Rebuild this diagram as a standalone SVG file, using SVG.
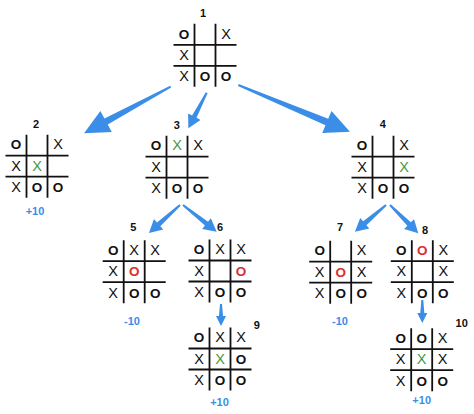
<svg xmlns="http://www.w3.org/2000/svg" width="474" height="414" viewBox="0 0 474 414">
<defs>
<path id="grid" d="M-31.5,-10.5H31.5M-31.5,10.5H31.5M-10.5,-31.5V31.5M10.5,-31.5V31.5" stroke="#111" stroke-width="1.8" fill="none"/>
</defs>
<style>
.x,.o{font-family:"Liberation Sans",Arial,sans-serif;font-size:13.5px;text-anchor:middle;fill:#111}
.x{font-size:14.5px}
.o{font-weight:bold}
.g{fill:#3f9a3f}
.r{fill:#d9302e}
.num{font-family:"Liberation Sans",Arial,sans-serif;font-weight:bold;font-size:11px;text-anchor:middle;fill:#111;stroke:#fff;stroke-width:3;paint-order:stroke}
.score{font-family:"Liberation Sans",Arial,sans-serif;font-weight:bold;font-size:11px;text-anchor:middle;fill:#3a8ee8;stroke:#fff;stroke-width:2;paint-order:stroke}
.arrow{fill:#3a8ee8}
</style>
<rect width="474" height="414" fill="#fff"/>
<g id="connectors">
<path class="arrow" transform="translate(170.7,86.7) rotate(151.7)" d="M0,-1 L73.4,-3.5 L73.4,-12 L98.4,0 L73.4,12 L73.4,3.5 L0,1Z"/>
<path class="arrow" transform="translate(206.7,92.7) rotate(117.3)" d="M0,-1 L27,-2.5 L27,-7 L40,0 L27,7 L27,2.5 L0,1Z"/>
<path class="arrow" transform="translate(238.3,85) rotate(22.7)" d="M0,-1 L96,-3.5 L96,-12 L121,0 L96,12 L96,3.5 L0,1Z"/>
<path class="arrow" transform="translate(180,205) rotate(137.9)" d="M0,-1 L28.8,-2.5 L28.8,-7 L41.8,0 L28.8,7 L28.8,2.5 L0,1Z"/>
<path class="arrow" transform="translate(183,205) rotate(38.4)" d="M0,-1 L30,-2.5 L30,-7 L43,0 L30,7 L30,2.5 L0,1Z"/>
<path class="arrow" transform="translate(386,205) rotate(139.3)" d="M0,-1 L28,-2.5 L28,-7 L41,0 L28,7 L28,2.5 L0,1Z"/>
<path class="arrow" transform="translate(390,205) rotate(45)" d="M0,-1 L27,-2.5 L27,-7 L40,0 L27,7 L27,2.5 L0,1Z"/>
<path class="arrow" transform="translate(221,304) rotate(90)" d="M0,-1 L12,-2 L12,-5 L22,0 L12,5 L12,2 L0,1Z"/>
<path class="arrow" transform="translate(422.3,300) rotate(90)" d="M0,-1 L13,-2 L13,-5 L23,0 L13,5 L13,2 L0,1Z"/>
</g>
<g id="node1">
<text class="num" x="203" y="17">1</text>
<g transform="translate(205,55.3)"><use href="#grid"/>
<text class="o" x="-21" y="-16.8">O</text><text class="x" x="21" y="-16.8">X</text>
<text class="x" x="-21" y="4.7">X</text>
<text class="x" x="-21" y="26.2">X</text><text class="o" x="0" y="26.2">O</text><text class="o" x="21" y="26.2">O</text></g>
</g>
<g id="node2">
<text class="num" x="36" y="128">2</text>
<g transform="translate(37,166.2)"><use href="#grid"/>
<text class="o" x="-21" y="-16.8">O</text><text class="x" x="21" y="-16.8">X</text>
<text class="x" x="-21" y="4.7">X</text><text class="x g" x="0" y="4.7">X</text>
<text class="x" x="-21" y="26.2">X</text><text class="o" x="0" y="26.2">O</text><text class="o" x="21" y="26.2">O</text></g>
<text class="score" x="35" y="214.5">+10</text>
</g>
<g id="node3">
<text class="num" x="176.7" y="129">3</text>
<g transform="translate(177,167.2)"><use href="#grid"/>
<text class="o" x="-21" y="-16.8">O</text><text class="x g" x="0" y="-16.8">X</text><text class="x" x="21" y="-16.8">X</text>
<text class="x" x="-21" y="4.7">X</text>
<text class="x" x="-21" y="26.2">X</text><text class="o" x="0" y="26.2">O</text><text class="o" x="21" y="26.2">O</text></g>
</g>
<g id="node4">
<text class="num" x="382.7" y="128">4</text>
<g transform="translate(383,167.2)"><use href="#grid"/>
<text class="o" x="-21" y="-16.8">O</text><text class="x" x="21" y="-16.8">X</text>
<text class="x" x="-21" y="4.7">X</text><text class="x g" x="21" y="4.7">X</text>
<text class="x" x="-21" y="26.2">X</text><text class="o" x="0" y="26.2">O</text><text class="o" x="21" y="26.2">O</text></g>
</g>
<g id="node5">
<text class="num" x="133.3" y="230.7">5</text>
<g transform="translate(134.2,271.7)"><use href="#grid"/>
<text class="o" x="-21" y="-16.8">O</text><text class="x" x="0" y="-16.8">X</text><text class="x" x="21" y="-16.8">X</text>
<text class="x" x="-21" y="4.7">X</text><text class="o r" x="0" y="4.7">O</text>
<text class="x" x="-21" y="26.2">X</text><text class="o" x="0" y="26.2">O</text><text class="o" x="21" y="26.2">O</text></g>
<text class="score" x="132" y="325">-10</text>
</g>
<g id="node6">
<text class="num" x="220" y="230.7">6</text>
<g transform="translate(220,271)"><use href="#grid"/>
<text class="o" x="-21" y="-16.8">O</text><text class="x" x="0" y="-16.8">X</text><text class="x" x="21" y="-16.8">X</text>
<text class="x" x="-21" y="4.7">X</text><text class="o r" x="21" y="4.7">O</text>
<text class="x" x="-21" y="26.2">X</text><text class="o" x="0" y="26.2">O</text><text class="o" x="21" y="26.2">O</text></g>
</g>
<g id="node7">
<text class="num" x="340" y="230.7">7</text>
<g transform="translate(340.7,272.2)"><use href="#grid"/>
<text class="o" x="-21" y="-16.8">O</text><text class="x" x="21" y="-16.8">X</text>
<text class="x" x="-21" y="4.7">X</text><text class="o r" x="0" y="4.7">O</text><text class="x" x="21" y="4.7">X</text>
<text class="x" x="-21" y="26.2">X</text><text class="o" x="0" y="26.2">O</text><text class="o" x="21" y="26.2">O</text></g>
<text class="score" x="340" y="325">-10</text>
</g>
<g id="node8">
<text class="num" x="425" y="234">8</text>
<g transform="translate(422.3,271.7)"><use href="#grid"/>
<text class="o" x="-21" y="-16.8">O</text><text class="o r" x="0" y="-16.8">O</text><text class="x" x="21" y="-16.8">X</text>
<text class="x" x="-21" y="4.7">X</text><text class="x" x="21" y="4.7">X</text>
<text class="x" x="-21" y="26.2">X</text><text class="o" x="0" y="26.2">O</text><text class="o" x="21" y="26.2">O</text></g>
</g>
<g id="node9">
<text class="num" x="256.7" y="329">9</text>
<g transform="translate(220,359)"><use href="#grid"/>
<text class="o" x="-21" y="-16.8">O</text><text class="x" x="0" y="-16.8">X</text><text class="x" x="21" y="-16.8">X</text>
<text class="x" x="-21" y="4.7">X</text><text class="x g" x="0" y="4.7">X</text><text class="o" x="21" y="4.7">O</text>
<text class="x" x="-21" y="26.2">X</text><text class="o" x="0" y="26.2">O</text><text class="o" x="21" y="26.2">O</text></g>
<text class="score" x="219.5" y="405.5">+10</text>
</g>
<g id="node10">
<text class="num" x="461.7" y="327.3">10</text>
<g transform="translate(421.7,359.7)"><use href="#grid"/>
<text class="o" x="-21" y="-16.8">O</text><text class="o" x="0" y="-16.8">O</text><text class="x" x="21" y="-16.8">X</text>
<text class="x" x="-21" y="4.7">X</text><text class="x g" x="0" y="4.7">X</text><text class="x" x="21" y="4.7">X</text>
<text class="x" x="-21" y="26.2">X</text><text class="o" x="0" y="26.2">O</text><text class="o" x="21" y="26.2">O</text></g>
<text class="score" x="421.7" y="404">+10</text>
</g>
</svg>
